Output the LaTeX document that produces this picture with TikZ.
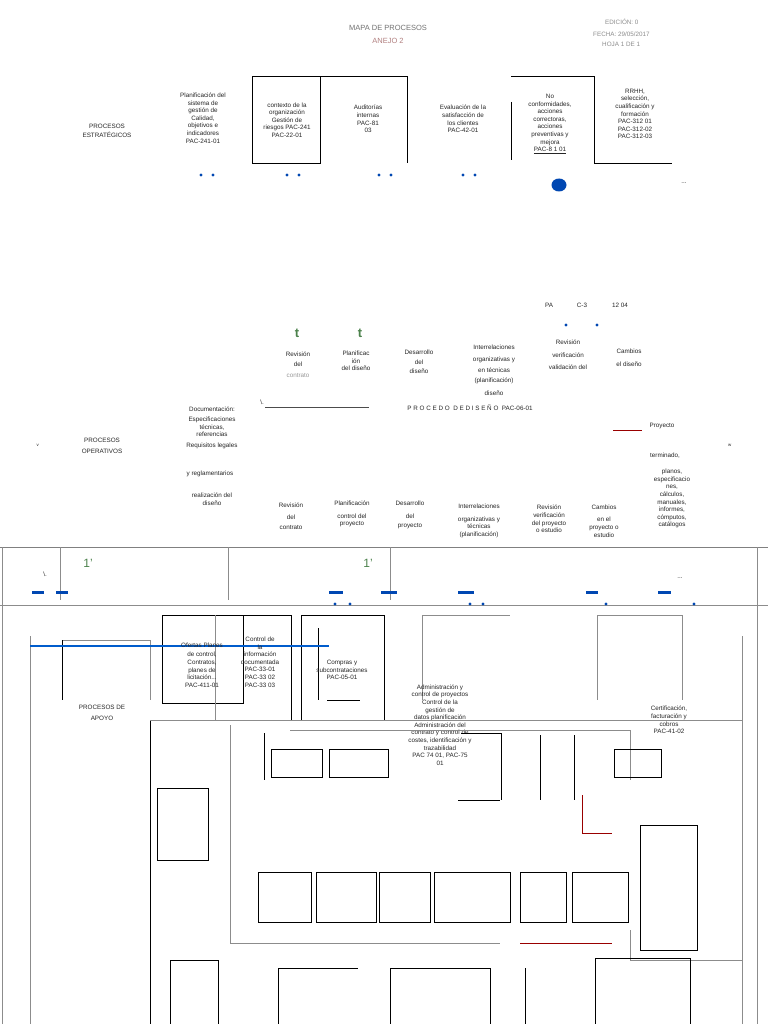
\documentclass[tikz,border=0pt]{standalone}
\usepackage{fontspec}
\setmainfont{Liberation Sans}
\begin{document}
\begin{tikzpicture}[x=1pt,y=-1pt,
 t/.style={font=\fontsize{6.3}{7.6}\selectfont,align=center,text=black!85,inner sep=0},
 b/.style={draw=black,line width=0.6pt},
 g/.style={draw=black!45,line width=0.5pt}]
\useasboundingbox (0,0) rectangle (768,1024);
\fill[white] (0,0) rectangle (768,1024);
% header
\node[t,font=\fontsize{7.5}{8}\selectfont\rmfamily,text=black!55] (h1) at (388,28) {MAPA DE PROCESOS};
\node[t,font=\fontsize{7.5}{8}\selectfont,text=red!40!black!50] (h2) at (388,41) {ANEJO 2};
\node[t,text=black!45,anchor=west] (h3) at (605,22) {EDICI\'ON: 0};
\node[t,text=black!45,anchor=west] (h4) at (593,34) {FECHA: 29/05/2017};
\node[t,text=black!45,anchor=west] (h5) at (602,44) {HOJA 1 DE 1};
% strategic
\node[t] (pe) at (107,131) {PROCESOS\\[2pt]ESTRAT\'EGICOS};
\node[t] (s1) at (203,118) {Planificaci\'on del\\sistema de\\gesti\'on de\\Calidad,\\objetivos e\\indicadores\\PAC-241-01};
\draw[b] (252,76) rectangle (320,163);
\node[t] (s2) at (287,120) {contexto de la\\organizaci\'on\\Gesti\'on de\\riesgos PAC-241\\PAC-22-01};
\draw[b] (320,76) -- (407,76) -- (407,163);
\node[t] (s3) at (368,119) {Auditor\'ias\\internas\\PAC-81\\03};
\node[t] (s4) at (463,119) {Evaluaci\'on de la\\satisfacci\'on de\\los clientes\\PAC-42-01};
\draw[b] (511,76) -- (594,76) -- (594,163);
\draw[b] (511,102) -- (511,160);
\node[t] (s5) at (550,124) {No\\conformidades,\\acciones\\correctoras,\\acciones\\preventivas y\\mejora\\\underline{PAC-8 1 01}};
\draw[b] (594,163) -- (672,163);
\node[t] (s6) at (635,114) {RRHH,\\selecci\'on,\\cualificaci\'on y\\formaci\'on\\PAC-312 01\\PAC-312-02\\PAC-312-03};
\foreach \x in {201,213,287,299,379,391,463,475}{\fill[blue!60!cyan!70!black] (\x,175) circle (1.6);}
\fill[blue!60!cyan!70!black] (559,185) ellipse (7.5 and 6.5);
\node[t] (dots1) at (684,183) {...};
% operative
\node[t] (pa) at (549,305) {PA};
\node[t] (pc) at (582,305) {C-3};
\node[t] (pd) at (620,305) {12 04};
\fill[blue!60!cyan!70!black] (566,325) circle (1.6) (597,325) circle (1.6);
\node[font=\fontsize{13}{14}\selectfont\bfseries,text=green!30!black!70] (t1) at (297,333) {t};
\node[font=\fontsize{13}{14}\selectfont\bfseries,text=green!30!black!70] (t2) at (360,333) {t};
\node[t] (o1) at (298,365) {Revisi\'on\\[2pt]del\\[4pt]{\color{black!40}contrato}};
\node[t] (o2) at (356,361) {Planificac\\i\'on\\del dise\~no};
\node[t] (o3) at (419,362) {Desarrollo\\[2pt]del\\[2pt]dise\~no};
\node[t] (o4) at (494,370) {Interrelaciones\\[5pt]organizativas y\\[3pt]en t\'ecnicas\\[3pt](planificaci\'on)\\[5pt]dise\~no};
\node[t] (o5) at (568,355) {Revisi\'on\\[5pt]verificaci\'on\\[5pt]validaci\'on del};
\node[t] (o6) at (629,358) {Cambios\\[5pt]el dise\~no};
\node[t] (lb) at (262,402) {\textbackslash.};
\draw[black!70,line width=1pt] (265,407) coordinate (la) -- (369,407) coordinate (lb2);
\node[t] (pd1) at (470,408) {P R O C E D O \ D E D I S E \~N O \ PAC-06-01};
\node[t] (doc) at (212,422) {Documentaci\'on:\\[2pt]Especificaciones\\t\'ecnicas,\\referencias};
\node[t] (req) at (212,446) {Requisitos legales};
\node[t] (po) at (102,446) {PROCESOS\\[3pt]OPERATIVOS};
\node[t] (rg) at (210,474) {y reglamentarios};
\node[t] (rd) at (212,499) {realizaci\'on del\\dise\~no};
\draw[red!60!black,line width=0.6pt] (613,430) -- (642,430);
\node[t] (pr1) at (662,426) {Proyecto};
\node[t,anchor=west] (pr2) at (650,456) {terminado,};
\node[t,align=center,anchor=north] (pr3) at (672,469) {planos,\\especificacio\\nes,\\c\'alculos,\\manuales,\\informes,\\c\'omputos,\\cat\'alogos};
\node[t] (q1) at (291,516) {Revisi\'on\\[5pt]del\\[2pt]contrato};
\node[t] (q2) at (352,514) {Planificaci\'on\\[5pt]control del\\proyecto};
\node[t] (q3) at (410,515) {Desarrollo\\[5pt]del\\[2pt]proyecto};
\node[t] (q4) at (479,521) {Interrelaciones\\[5pt]organizativas y\\t\'ecnicas\\(planificaci\'on)};
\node[t] (q5) at (549,519) {Revisi\'on\\verificaci\'on\\del proyecto\\o estudio};
\node[t] (q6) at (604,521) {Cambios\\[5pt]en el\\proyecto o\\estudio};
\node[t] (lm1) at (38,447) {\textsuperscript{v}};
\node[t] (rm1) at (730,447) {\textsuperscript{w}};
% separator
\fill[white] (0,547) rectangle (768,1024);
\draw[black!50,line width=0.8pt] (0,547) -- (768,547);
\draw[g] (2,547) -- (2,1024) (757,547) -- (757,1024) (60,547) -- (60,600) (228,547)--(228,600) (390,547)--(390,600);
\draw[g] (0,605) -- (768,605);
\node[font=\fontsize{12}{12}\selectfont,text=green!30!black!70] (one1) at (88,563) {1'};
\node[font=\fontsize{12}{12}\selectfont,text=green!30!black!70] (one2) at (368,563) {1'};
\node[t] (bs) at (45,574) {\textbackslash.};
\foreach \x/\w in {38/12,62/12,336/14,389/16,466/16,592/12,664/13}{\fill[blue!60!cyan!70!black] (\x-\w/2,591) rectangle ++(\w,2.5);}
\foreach \x in {335,350,470,483,606,694}{\fill[blue!60!cyan!70!black] (\x,604) circle (1.6);}
\node[t] (dots2) at (680,578) {...};
% support
\node[t] (pap) at (102,713) {PROCESOS DE\\[3pt]APOYO};
\draw[g] (30,636) -- (30,1024) (742,636)--(742,1024);
\draw[b] (162,615) rectangle (243,703);
\draw[g] (215,615) -- (215,720);
\draw[b] (230,615) -- (291,615) -- (291,720);
\draw[b] (301,615) rectangle (384,720);
\draw[b] (318,628)--(318,700) (327,700)--(360,700);
\draw[g] (62,640) -- (150,640) -- (150,700);
\draw[b] (62,640) -- (62,700);
\draw[g] (422,615) -- (510,615) (422,615) -- (422,700);
\draw[g] (597,615) -- (682,615) -- (682,700) (597,615)--(597,700);
\draw[blue!55!cyan!80!black,line width=2.2pt] (30,646) -- (329,646);
\node[t] (a1) at (202,665) {Ofertas Planes\\[2pt]de control,\\Contratos,\\planes de\\licitaci\'on...\\PAC-411-01};
\node[t] (a2) at (260,662) {Control de\\la\\informaci\'on\\documentada\\PAC-33-01\\PAC-33 02\\PAC-33 03};
\node[t] (a3) at (342,670) {Compras y\\subcontrataciones\\PAC-05-01};
\node[t] (a4) at (440,725) {Administraci\'on y\\control de proyectos\\Control de la\\gesti\'on de\\datos planificaci\'on\\Administraci\'on del\\contrato y control de\\costes, identificaci\'on y\\trazabilidad\\PAC 74 01, PAC-75\\01};
\node[t] (a5) at (669,720) {Certificaci\'on,\\facturaci\'on y\\cobros\\PAC-41-02};
\draw[b] (150,720) -- (150,1024);
\draw[g] (150,720) -- (742,720) (290,730)--(630,730);
\draw[g] (230,725) -- (230,880) (630,730)--(630,780);
\draw[b] (271,749) rectangle (322,777) (329,749) rectangle (388,777) (614,749) rectangle (661,777);
\draw[b] (157,788) rectangle (208,860);
\draw[b] (264,733)--(264,780) (461,733)--(501,733) (501,733)--(501,800) (540,735)--(540,800)(574,735)--(574,800) (458,800)--(500,800);
\draw[red!60!black,line width=0.6pt] (582,795)--(582,833)--(612,833);
\draw[b] (640,825) rectangle (697,950);
\draw[b] (258,872) rectangle (311,922) (316,872) rectangle (376,922) (379,872) rectangle (430,922) (434,872) rectangle (510,922) (520,872) rectangle (566,922) (572,872) rectangle (628,922);
\draw[g] (230,880) -- (230,943) -- (500,943) (630,930)--(630,960)--(742,960);
\draw[red!60!black,line width=0.6pt] (520,943)--(612,943);
\draw[b] (170,960) rectangle (218,1024) (278,968) -- (278,1024) (278,968)--(358,968) (390,968) rectangle (490,1024) (595,958) rectangle (690,1024) (525,968)--(525,1024);
\end{tikzpicture}
\end{document}
